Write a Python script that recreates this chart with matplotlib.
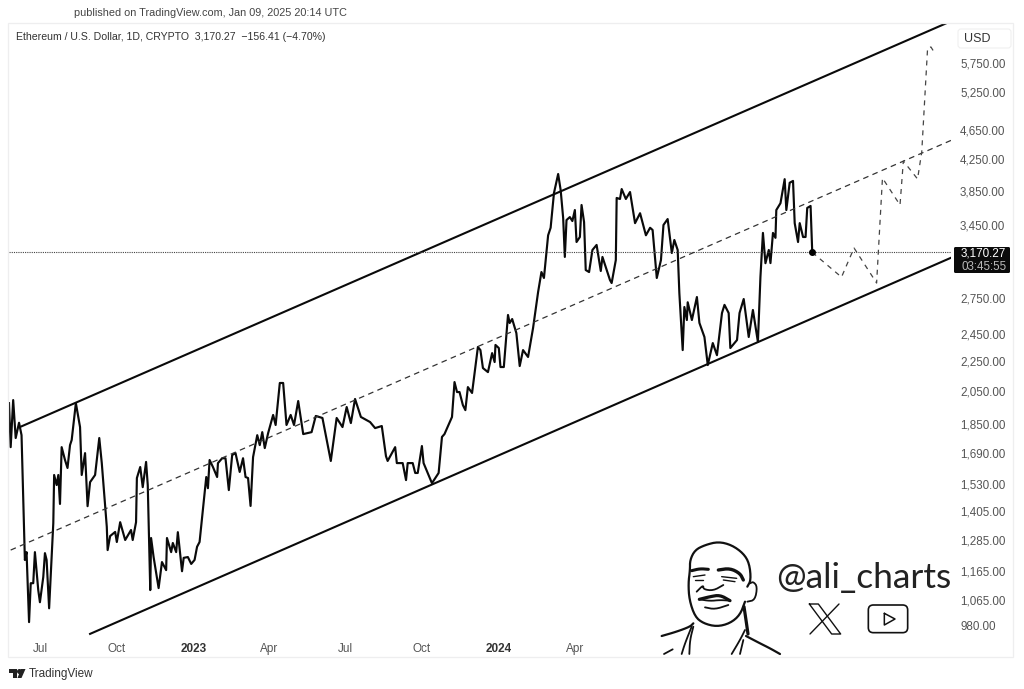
import pandas as pd
import matplotlib
matplotlib.use("Agg")
import matplotlib.pyplot as plt
from matplotlib.patches import Rectangle, FancyBboxPatch, Polygon

plt.rcParams['font.family'] = ['Liberation Sans', 'DejaVu Sans']

# ------------------------------------------------------------
# Data (days counted from 2022-07-01, prices in USD)
# ------------------------------------------------------------

start = pd.Timestamp("2022-07-01")

price_days = [
    -37, -35, -32, -29, -25, -22, -19, -18, -16, -14, -13, -11, -8, -6, -2, 0, 4, 6, 8, 11,
    16, 17, 20, 22, 24, 26, 30, 33, 36, 38, 43, 48, 50, 54, 57, 60, 66, 71, 74, 78,
    80, 81, 84, 90, 92, 96, 102, 109, 111, 115, 116, 120, 123, 127, 129, 132, 133, 136, 142, 146,
    151, 152, 157, 159, 163, 165, 170, 172, 177, 181, 185, 188, 191, 195, 199, 201, 203, 207, 212, 213,
    218, 222, 226, 230, 234, 239, 243, 246, 249, 252, 255, 260, 263, 266, 269, 273, 279, 282, 287, 291,
    295, 300, 304, 309, 315, 325, 330, 338, 348, 355, 362, 367, 372, 377, 384, 395, 401, 409, 414, 416,
    425, 427, 434, 438, 440, 446, 449, 452, 457, 459, 469, 477, 481, 484, 493, 496, 499, 502, 506, 509,
    512, 517, 524, 527, 530, 536, 541, 544, 545, 549, 551, 555, 560, 562, 565, 570, 574, 578, 584, 590,
    593, 596, 600, 603, 608, 611, 615, 620, 623, 626, 628, 630, 634, 637, 640, 642, 646, 648, 651, 653,
    657, 661, 666, 671, 673, 682, 684, 689, 690, 694, 696, 701, 706, 712, 718, 725, 730, 733, 738, 743,
    746, 751, 756, 759, 763, 765, 769, 771, 774, 775, 780, 786, 789, 795, 799, 805, 810, 816, 819, 824,
    826, 834, 837, 842, 848, 853, 859, 862, 865, 868, 872, 874, 877, 880, 881, 886, 891, 893, 897, 901,
    903, 907, 909, 913, 916, 918, 922, 924,
]
price_close = [
    1974, 1719, 1993, 1769, 1856, 1785, 1338, 1206, 1236, 1063, 992, 1121, 1121, 1236, 1097, 1056, 1143, 1232, 1206, 1036,
    1354, 1575, 1526, 1575, 1438, 1719, 1651, 1610, 1730, 1758, 1974, 1831, 1575, 1687, 1428, 1540, 1575, 1769, 1635, 1428,
    1338, 1244, 1300, 1317, 1276, 1358, 1284, 1325, 1284, 1358, 1560, 1615, 1516, 1641, 1526, 1097, 1292, 1217, 1104, 1198,
    1168, 1292, 1236, 1272, 1236, 1316, 1164, 1214, 1217, 1191, 1206, 1257, 1276, 1411, 1565, 1511, 1651, 1615, 1565, 1635,
    1660, 1660, 1502, 1677, 1687, 1590, 1660, 1565, 1560, 1429, 1666, 1785, 1730, 1802, 1714, 1796, 1902, 1843, 2103, 2103,
    1843, 1902, 1843, 1987, 1791, 1802, 1896, 1884, 1646, 1884, 1831, 1950, 1854, 2000, 1890, 1860, 1825, 1837, 1671, 1646,
    1719, 1635, 1635, 1550, 1635, 1635, 1585, 1585, 1725, 1635, 1535, 1585, 1775, 1791, 1890, 2109, 2044, 2044, 1962, 1931,
    2076, 2038, 2355, 2332, 2204, 2176, 2310, 2246, 2370, 2347, 2211, 2211, 2604, 2539, 2571, 2460, 2218, 2332, 2282, 2500,
    2645, 2798, 2980, 2925, 3345, 3425, 3820, 4055, 3856, 3531, 3125, 3509, 3542, 3498, 3621, 3275, 3327, 3679, 3487, 2999,
    2980, 3194, 3245, 2990, 3125, 2906, 2879, 3095, 3761, 3749, 3868, 3749, 3832, 3475, 3585, 3345, 3425, 3401, 2925, 3095,
    3455, 3520, 3164, 3296, 3194, 2790, 2332, 2670, 2563, 2710, 2563, 2755, 2540, 2430, 2225, 2384, 2295, 2620, 2688, 2620,
    2347, 2407, 2620, 2738, 2430, 2645, 2392, 2933, 3370, 3064, 3194, 3065, 3370, 3318, 3621, 3700, 3990, 3621, 3945, 3968,
    3475, 3275, 3475, 3327, 3327, 3645, 3668, 3170,
]

forecast_days = [924, 959, 974, 1001, 1008, 1029, 1033, 1050, 1055, 1062, 1066, 1069]
forecast_price = [3170, 2933, 3214, 2879, 4004, 3679, 4224, 3992, 4346, 6025, 6044, 5968]

upper_days = [-24, 1085]
upper_price = [1831, 6517]
lower_days = [60, 1092]
lower_price = [956, 3124]
middle_days = [-35, 1091]
middle_price = [1244, 4512]

last_price = 3170.27
last_label = "3,170.27"
countdown = "03:45:55"

y_ticks = [980, 1065, 1165, 1285, 1405, 1530, 1690, 1850, 2050, 2250, 2450, 2750,
           3450, 3850, 4250, 4650, 5250, 5750]
x_tick_dates = ["2022-07-01", "2022-10-01", "2023-01-01", "2023-04-01",
                "2023-07-01", "2023-10-01", "2024-01-01", "2024-04-01"]
x_tick_labels = ["Jul", "Oct", "2023", "Apr", "Jul", "Oct", "2024", "Apr"]

header = "published on TradingView.com, Jan 09, 2025 20:14 UTC"
title = "Ethereum / U.S. Dollar, 1D, CRYPTO  3,170.27  \u2212156.41 (\u22124.70%)"


def to_dates(days):
    return start + pd.to_timedelta(days, unit="D")


# ------------------------------------------------------------
# Chart
# ------------------------------------------------------------

W, H = 1024, 689
fig = plt.figure(figsize=(W / 100, H / 100), dpi=100, facecolor="white")

left, right, top, bottom = 9, 951, 24, 657
ax = fig.add_axes([left / W, 1 - bottom / H, (right - left) / W, (bottom - top) / H])

ax.plot(to_dates(price_days), price_close, color="#0a0a0a", lw=1.55, solid_joinstyle="round")
ax.plot(to_dates(upper_days), upper_price, color="#0a0a0a", lw=1.5)
ax.plot(to_dates(lower_days), lower_price, color="#0a0a0a", lw=1.5)
ax.plot(to_dates(middle_days), middle_price, color="#333333", lw=0.9, dashes=(4.5, 3.5))
ax.plot(to_dates(forecast_days), forecast_price, color="#444444", lw=0.9, dashes=(4, 4))
ax.axhline(last_price, color="#444444", lw=0.8, ls=(0, (1, 1)))
ax.plot(to_dates([price_days[-1]]), [price_close[-1]], "o", color="black", ms=4)

ax.set_yscale("log")
ax.set_ylim(889, 6497)
ax.set_xlim(to_dates(-37), to_dates(1090))

ax.yaxis.tick_right()
ax.set_yticks(y_ticks)
ax.set_yticklabels([f"{v:,.2f}" for v in y_ticks])
ax.minorticks_off()
ax.tick_params(axis="y", length=0, pad=6.5, labelsize=8.4, labelcolor="#555555")

ax.set_xticks(pd.to_datetime(x_tick_dates))
ax.set_xticklabels(x_tick_labels)
ax.tick_params(axis="x", length=0, pad=-10, labelsize=8.5, labelcolor="#555555")
for lab in ax.get_xticklabels():
    if lab.get_text().startswith("20"):
        lab.set_fontweight("bold")
        lab.set_color("#333333")

for spine in ax.spines.values():
    spine.set_visible(False)

# ------------------------------------------------------------
# Overlay in pixel coordinates: panel, price label, handle, artwork
# ------------------------------------------------------------

ov = fig.add_axes([0, 0, 1, 1], facecolor="none")
ov.set_xlim(0, W)
ov.set_ylim(H, 0)
ov.axis("off")

ov.add_patch(Rectangle((8, 23), 1005, 634, fill=False, ec="#eeeeef", lw=0.9))
ov.text(74, 13.5, header, fontsize=7.85, color="#444444", va="center")
ov.text(15.5, 36.5, title, fontsize=7.6, color="#333333", va="center")

ov.add_patch(FancyBboxPatch((958, 29), 53, 19, boxstyle="round,pad=0,rounding_size=3",
                            fc="white", ec="#f0f0f0", lw=0.8))
ov.text(964, 38.5, "USD", fontsize=9, color="#333333", va="center")

ov.add_patch(FancyBboxPatch((954, 247), 56, 26, boxstyle="round,pad=0,rounding_size=1.5",
                            fc="#0b0b0b", ec="none"))
ov.text(961, 253.5, last_label, fontsize=8.4, color="white", va="center")
ov.text(961, 266.5, countdown, fontsize=8.4, color="#b8b8b8", va="center")

ov.text(776, 578, "@ali_charts", family="Lato", fontsize=25.5, color="#222222", va="center")

# TradingView footer
ov.add_patch(Polygon([(9, 669), (17, 669), (17, 678), (13, 678), (13, 673), (9, 673)], fc="#222222"))
ov.add_patch(Polygon([(21, 669), (25.5, 669), (21.5, 678), (17.5, 678)], fc="#222222"))
ov.plot([19], [671], "o", color="#222222", ms=2.6)
ov.text(29, 674.5, "TradingView", fontsize=8.5, color="#333333", va="center")


def smooth(points, rounds=2):
    # corner cutting, keeps the end points
    for _ in range(rounds):
        out = [points[0]]
        for a, b in zip(points[:-1], points[1:]):
            out.append((0.75 * a[0] + 0.25 * b[0], 0.75 * a[1] + 0.25 * b[1]))
            out.append((0.25 * a[0] + 0.75 * b[0], 0.25 * a[1] + 0.75 * b[1]))
        out.append(points[-1])
        points = out
    return points


def art(points, lw=1.3, curve=True):
    # points are in 3x crop units of the corner block
    if curve:
        points = smooth(points)
    xs = [640 + p[0] / 3 for p in points]
    ys = [530 + p[1] / 3 for p in points]
    ov.plot(xs, ys, color="#111111", lw=lw, solid_capstyle="round", solid_joinstyle="round")


# head and jaw
art([(322, 170), (333, 150), (328, 100), (310, 70), (275, 45), (235, 35), (195, 45), (165, 60),
     (150, 90), (150, 120), (145, 160), (148, 210), (165, 260), (190, 280), (230, 290),
     (270, 280), (300, 255), (315, 215)], 1.6)
art([(322, 215), (345, 210), (352, 170), (340, 155), (330, 160)])
art([(312, 230), (318, 270), (324, 312)], 2.3)
# brows and eyes
art([(155, 122), (180, 116), (205, 118)], 2.2)
art([(235, 120), (270, 115), (300, 130), (310, 150)], 2.4)
art([(160, 140), (195, 135)], 1.0)
art([(165, 150), (190, 150)], 1.0)
art([(245, 140), (290, 145)], 1.0)
art([(250, 150), (285, 155)], 1.0)
# nose and mouth
art([(170, 185), (190, 165), (190, 178), (220, 182), (250, 165)])
art([(178, 208), (210, 200), (240, 195), (270, 212)], 2.3)
art([(178, 208), (210, 213), (240, 210), (270, 212)])
art([(195, 232), (225, 238), (265, 225)])
# shoulders
art([(65, 318), (110, 305), (150, 290), (160, 280)], 1.6)
art([(125, 372), (135, 340), (155, 290)])
art([(148, 372), (150, 330), (160, 290)])
art([(72, 372), (98, 358)])
art([(275, 372), (300, 330), (315, 300)])
art([(300, 372), (310, 330)])
art([(318, 318), (360, 340), (390, 355), (420, 372)], 1.6)

# X logo
art([(597, 222), (510, 312)], 1.0, curve=False)
art([(508, 222), (535, 222), (602, 312), (575, 312), (508, 222)], 1.0, curve=False)
# play button
ov.add_patch(FancyBboxPatch((640 + 685 / 3, 530 + 225 / 3), 118 / 3, 83 / 3,
                            boxstyle="round,pad=0,rounding_size=5", fc="none", ec="#111111", lw=1.2))
art([(733, 250), (733, 285), (765, 267), (733, 250)], 1.1, curve=False)

fig.savefig("out.png", dpi=100, facecolor="white")
